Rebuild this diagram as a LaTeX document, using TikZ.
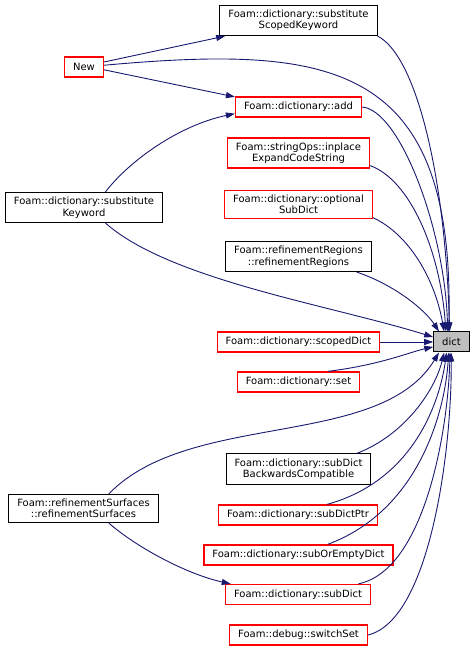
\documentclass[tikz,border=0pt]{standalone}
\usepackage{fontspec}
\setmainfont{DejaVu Sans}
\usetikzlibrary{arrows.meta}
\definecolor{edgeblue}{RGB}{25,25,112}
\definecolor{dictgray}{RGB}{191,191,191}
\definecolor{boxred}{RGB}{255,0,0}
\tikzset{>={Triangle[length=9pt,width=6pt]}}
\tikzset{%
    fn/.style={draw=black, line width=1pt, align=center, inner xsep=8.5pt,
        inner ysep=4.5pt, minimum height=20pt,
        font=\fontsize{10}{11.5}\selectfont},
    fnred/.style={fn, draw=boxred, line width=1.3pt},
    call/.style={->, edgeblue, line width=0.9pt}
}

\begin{document}
\begin{tikzpicture}[x=1pt,y=1pt]
\useasboundingbox (0,0) rectangle (474,650);

\node[fn] (ssk) at (298.5,629.5) {Foam::dictionary::substitute\\ScopedKeyword};
\node[fnred] (new) at (84,583) {New};
\node[fnred] (add) at (298.5,543) {Foam::dictionary::add};
\node[fnred] (inplace) at (298.5,497) {Foam::stringOps::inplace\\ExpandCodeString};
\node[fnred] (optional) at (298.5,445.5) {Foam::dictionary::optional\\SubDict};
\node[fn] (regions) at (298.5,393.5) {Foam::refinementRegions\\::refinementRegions};
\node[fn] (subkey) at (84,442.5) {Foam::dictionary::substitute\\Keyword};
\node[fnred] (scoped) at (298.5,308) {Foam::dictionary::scopedDict};
\node[fn, fill=dictgray] (dict) at (451.5,308) {dict};
\node[fnred] (set) at (298.5,268) {Foam::dictionary::set};
\node[fn] (subdictbc) at (298.5,181) {Foam::dictionary::subDict\\BackwardsCompatible};
\node[fn] (surfaces) at (83.5,141.5) {Foam::refinementSurfaces\\::refinementSurfaces};
\node[fnred] (ptr) at (298,135) {Foam::dictionary::subDictPtr};
\node[fnred] (subor) at (298.5,95) {Foam::dictionary::subOrEmptyDict};
\node[fnred] (subdict) at (298,55.5) {Foam::dictionary::subDict};
\node[fnred] (switchset) at (298.5,15) {Foam::debug::switchSet};

% callers on the left
\draw[call] (new.14) -- (ssk.192);
\draw[call] (new.-8) -- (add.171);
\draw[call] (subkey.36) .. controls (130,490) and (180,525) .. (add.186);
\draw[call] (surfaces.-30) .. controls (140,100) and (190,75) .. (subdict.171);

% everything into dict
\draw[call] (ssk.south east) .. controls (415,595) and (445,480) .. (dict.100);
\draw[call] (new.5) .. controls (330,605) and (455,590) .. (dict.105);
\draw[call] (add.east) .. controls (400,540) and (445,420) .. (dict.110);
\draw[call] (inplace.-10) .. controls (410,470) and (440,400) .. (dict.118);
\draw[call] (optional.-10) .. controls (410,415) and (435,370) .. (dict.125);
\draw[call] (regions.-15) .. controls (395,365) and (425,340) .. (dict.140);
\draw[call] (subkey.-36) .. controls (170,370) and (330,345) .. (dict.165);
\draw[call] (scoped.east) -- (dict.west);
\draw[call] (set.20) .. controls (380,285) and (410,298) .. (dict.195);
\draw[call] (surfaces.30) .. controls (190,240) and (380,200) .. (dict.220);
\draw[call] (subdictbc.15) .. controls (405,215) and (435,260) .. (dict.235);
\draw[call] (ptr.20) .. controls (415,170) and (440,250) .. (dict.245);
\draw[call] (subor.20) .. controls (420,140) and (445,240) .. (dict.255);
\draw[call] (subdict.10) .. controls (425,80) and (448,220) .. (dict.262);
\draw[call] (switchset.east) .. controls (430,30) and (452,200) .. (dict.268);
\end{tikzpicture}
\end{document}
